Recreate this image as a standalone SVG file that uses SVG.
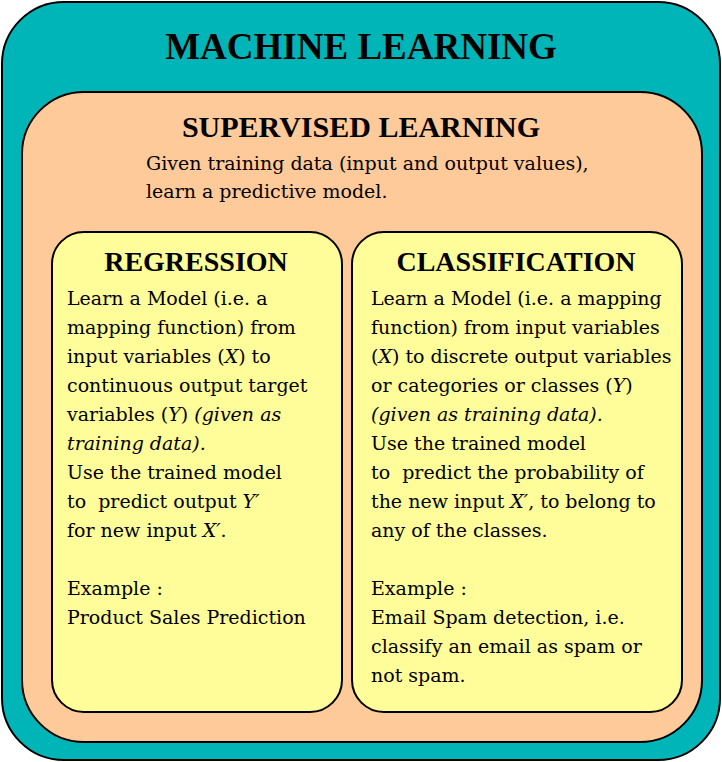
<svg xmlns="http://www.w3.org/2000/svg" width="722" height="762" viewBox="0 0 722 762">
<style>
.h{font-family:"Liberation Serif",serif;font-weight:bold;text-anchor:middle;fill:#000}
.t{font-family:"DejaVu Serif",serif;font-size:19px;fill:#000}
.box{stroke:#000;stroke-width:2}
</style>
<g id="machine-learning">
<rect class="box" x="2" y="2" width="718" height="758" rx="62" fill="#00B5B8"/>
<text class="h" x="361" y="59" font-size="37">MACHINE LEARNING</text>
</g>
<g id="supervised-learning">
<rect class="box" x="22" y="92" width="680" height="650" rx="62" fill="#FFCA99"/>
<text class="h" x="361" y="137" font-size="30">SUPERVISED LEARNING</text>
<text class="t" x="146" y="170">Given training data (input and output values),</text>
<text class="t" x="146" y="198">learn a predictive model.</text>
</g>
<g id="regression">
<rect class="box" x="52" y="232" width="290" height="480" rx="32" fill="#FFFD99"/>
<text class="h" x="196" y="271" font-size="28">REGRESSION</text>
<text class="t">
<tspan x="67" y="305">Learn a Model (i.e. a</tspan>
<tspan x="67" y="334">mapping function) from</tspan>
<tspan x="67" y="363">input variables (<tspan font-style="italic">X</tspan>) to</tspan>
<tspan x="67" y="392">continuous output target</tspan>
<tspan x="67" y="421">variables (<tspan font-style="italic">Y</tspan>) <tspan font-style="italic">(given as</tspan></tspan>
<tspan x="67" y="450" font-style="italic">training data).</tspan>
<tspan x="67" y="479">Use the trained model</tspan>
<tspan x="67" y="508">to &#160;predict output <tspan font-style="italic">Y′</tspan></tspan>
<tspan x="67" y="537">for new input <tspan font-style="italic">X′</tspan>.</tspan>
<tspan x="67" y="595">Example :</tspan>
<tspan x="67" y="624">Product Sales Prediction</tspan>
</text>
</g>
<g id="classification">
<rect class="box" x="352" y="232" width="330" height="480" rx="32" fill="#FFFD99"/>
<text class="h" x="516" y="271" font-size="28">CLASSIFICATION</text>
<text class="t">
<tspan x="371" y="305">Learn a Model (i.e. a mapping</tspan>
<tspan x="371" y="334">function) from input variables</tspan>
<tspan x="371" y="363">(<tspan font-style="italic">X</tspan>) to discrete output variables</tspan>
<tspan x="371" y="392">or categories or classes (<tspan font-style="italic">Y</tspan>)</tspan>
<tspan x="371" y="421" font-style="italic">(given as training data).</tspan>
<tspan x="371" y="450">Use the trained model</tspan>
<tspan x="371" y="479">to &#160;predict the probability of</tspan>
<tspan x="371" y="508">the new input <tspan font-style="italic">X′</tspan>, to belong to</tspan>
<tspan x="371" y="537">any of the classes.</tspan>
<tspan x="371" y="595">Example :</tspan>
<tspan x="371" y="624">Email Spam detection, i.e.</tspan>
<tspan x="371" y="653">classify an email as spam or</tspan>
<tspan x="371" y="682">not spam.</tspan>
</text>
</g>
<g id="connectors"/>
</svg>
